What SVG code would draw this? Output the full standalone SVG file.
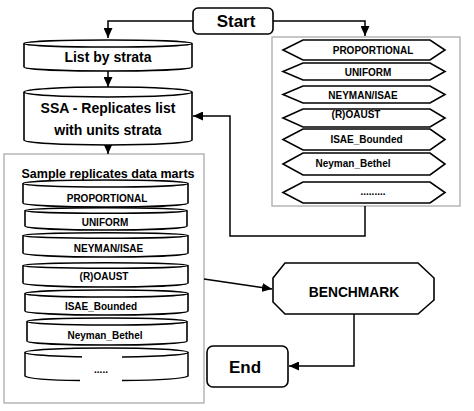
<svg xmlns="http://www.w3.org/2000/svg" width="474" height="411" viewBox="0 0 474 411">
<defs>
<marker id="ah" markerWidth="10" markerHeight="9" refX="10" refY="4.5" orient="auto" markerUnits="userSpaceOnUse">
<path d="M0,0 L10,4.5 L0,9 Z" fill="#000"/>
</marker>
</defs>
<style>
.s{fill:#fff;stroke:#000;stroke-width:1.6}
.g{fill:#fff;stroke:#aaa;stroke-width:1.3}
.c{fill:none;stroke:#000;stroke-width:1.5}
text{font-family:"Liberation Sans",Arial,sans-serif;font-weight:bold;fill:#000;text-anchor:middle}
.t10{font-size:10px}
</style>
<rect width="474" height="411" fill="#fff"/>

<g id="sample-box">
<rect class="g" x="4" y="154" width="200" height="249"/>
<text x="108" y="178" style="font-size:12.5px">Sample replicates data marts</text>
</g>
<g id="right-box">
<rect class="g" x="272" y="37" width="188" height="169"/>
</g>

<g id="connectors">
<polyline class="c" points="193,21 108,21 108,38" marker-end="url(#ah)"/>
<polyline class="c" points="273,21 365,21 365,36" marker-end="url(#ah)"/>
<polyline class="c" points="108,71 108,87" marker-end="url(#ah)"/>
<polyline class="c" points="108,146 108,154" marker-end="url(#ah)"/>
<polyline class="c" points="365,206 365,236 230,236 230,116 193,116" marker-end="url(#ah)"/>
<polyline class="c" points="204,279 272,289" marker-end="url(#ah)"/>
<polyline class="c" points="354,314 354,366 289,366" marker-end="url(#ah)"/>
</g>

<g id="start">
<rect class="s" x="193" y="8" width="80" height="26" rx="5"/>
<text x="236" y="27" style="font-size:17px">Start</text>
</g>

<g id="list-by-strata">
<path class="s" d="M24,43.5 L24,67 A84,4 0 0 0 192,67 L192,43.5"/>
<ellipse class="s" cx="108" cy="43.5" rx="84" ry="3.5"/>
<text x="108" y="62" style="font-size:14px">List by strata</text>
</g>

<g id="ssa">
<path class="s" d="M24,92 L24,140 A84,5 0 0 0 192,140 L192,92"/>
<ellipse class="s" cx="108" cy="92" rx="84" ry="5"/>
<text x="108" y="113" style="font-size:14px">SSA - Replicates list</text>
<text x="108" y="135" style="font-size:14px">with units strata</text>
</g>

<g id="cyl-proportional">
<path class="s" d="M23,183.5 L23,203 A82.5,4 0 0 0 188,203 L188,183.5"/>
<ellipse class="s" cx="105.5" cy="183.5" rx="82.5" ry="3.5"/>
<text class="t10" x="107" y="202">PROPORTIONAL</text>
</g>
<g id="cyl-uniform">
<path class="s" d="M25,210.5 L25,226 A81,4 0 0 0 187,226 L187,210.5"/>
<ellipse class="s" cx="106" cy="210.5" rx="81" ry="2.8"/>
<text class="t10" x="105" y="226">UNIFORM</text>
</g>
<g id="cyl-neyman-isae">
<path class="s" d="M23,235.5 L23,253 A82.5,4 0 0 0 188,253 L188,235.5"/>
<ellipse class="s" cx="105.5" cy="235.5" rx="82.5" ry="2.8"/>
<text class="t10" x="108.5" y="252">NEYMAN/ISAE</text>
</g>
<g id="cyl-roaust">
<path class="s" d="M23,265.5 L23,283 A82.5,4 0 0 0 188,283 L188,265.5"/>
<ellipse class="s" cx="105.5" cy="265.5" rx="82.5" ry="2.8"/>
<text class="t10" x="104" y="280">(R)OAUST</text>
</g>
<g id="cyl-isae-bounded">
<path class="s" d="M25,293.5 L25,311 A81.5,4 0 0 0 188,311 L188,293.5"/>
<ellipse class="s" cx="106.5" cy="293.5" rx="81.5" ry="3.5"/>
<text class="t10" x="101" y="310">ISAE_Bounded</text>
</g>
<g id="cyl-neyman-bethel">
<path class="s" d="M27,321.5 L27,341 A80,4 0 0 0 187,341 L187,321.5"/>
<ellipse class="s" cx="107" cy="321.5" rx="80" ry="3.5"/>
<text class="t10" x="105" y="339">Neyman_Bethel</text>
</g>
<g id="cyl-dots">
<path fill="#fff" stroke="none" d="M25,352 L25,376 A81.5,4.5 0 0 0 188,376 L188,352 Z"/>
<ellipse fill="none" stroke="#000" stroke-width="1.6" cx="106.5" cy="352.5" rx="81.5" ry="4.5" stroke-dasharray="0"/>
<path class="c" d="M25,352.5 L25,376 Q30,380 80,380.5 M122,380.5 Q182,380 188,376 L188,352.5"/>
<rect x="82" y="354" width="40" height="5" fill="#fff"/>
<text class="t10" x="101" y="373">.....</text>
</g>

<g id="hex-proportional">
<polygon class="s" points="283,50 303,40 430,40 445,50 430,60 303,60"/>
<text class="t10" x="373" y="54">PROPORTIONAL</text>
</g>
<g id="hex-uniform">
<polygon class="s" points="283,71.5 303,63 430,63 445,71.5 430,80 303,80"/>
<text class="t10" x="368" y="76">UNIFORM</text>
</g>
<g id="hex-neyman-isae">
<polygon class="s" points="283,94.5 303,86 430,86 445,94.5 430,103 303,103"/>
<text class="t10" x="363" y="99">NEYMAN/ISAE</text>
</g>
<g id="hex-roaust">
<polygon class="s" points="283,118 303,109 430,109 445,118 430,127 303,127"/>
<text class="t10" x="356" y="118">(R)OAUST</text>
</g>
<g id="hex-isae-bounded">
<polygon class="s" points="283,139.5 303,129 430,129 445,139.5 430,150 303,150"/>
<text class="t10" x="366.5" y="143">ISAE_Bounded</text>
</g>
<g id="hex-neyman-bethel">
<polygon class="s" points="283,164 303,153 430,153 445,164 430,175 303,175"/>
<text class="t10" x="353" y="167">Neyman_Bethel</text>
</g>
<g id="hex-dots">
<polygon class="s" points="283,192.5 303,182 430,182 445,192.5 430,203 303,203"/>
<text class="t10" x="373" y="195">.........</text>
</g>

<g id="benchmark">
<polygon class="s" points="285,263 418,263 434,278 434,300 418,314 285,314 273,302 273,278"/>
<text x="354" y="297" style="font-size:13.8px">BENCHMARK</text>
</g>

<g id="end">
<rect class="s" x="207" y="346" width="81" height="41" rx="6"/>
<text x="245" y="373" style="font-size:17px">End</text>
</g>
</svg>
